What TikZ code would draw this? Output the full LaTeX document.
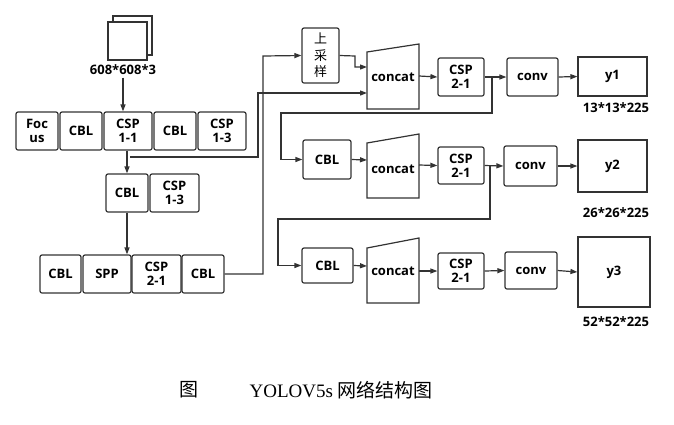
\documentclass[tikz,border=0pt]{standalone}
\usepackage{fontspec}
\setmainfont{Open Sans}
\newfontfamily\capfont{Liberation Serif}
\newfontfamily\cjk{Noto Sans CJK SC}
\usetikzlibrary{arrows.meta}
\begin{document}
\begin{tikzpicture}[x=1pt,y=-1pt,
  line width=1.2pt, draw=black!80,
  box/.style={draw=black!80,rounded corners=2pt,inner sep=0pt,align=center,font=\fontsize{13}{14}\selectfont\bfseries},
  lbl/.style={font=\fontsize{13}{14}\selectfont\bfseries,inner sep=0pt},
  arr/.style={-{Triangle[length=7pt,width=5pt]},draw=black!80},
  ln/.style={draw=black!80}]
\useasboundingbox (0,0) rectangle (674,424);
% input image icon
\draw[fill=white] (113,16) rectangle (152,55);
\draw[fill=white] (108,22) rectangle (147,60);
\node[lbl] (inp) at (123,70) {608*608*3};
% row 1
\node[box,minimum width=42,minimum height=38] (focus) at (37,131) {Foc\\us};
\node[box,minimum width=42,minimum height=38] (cbl1) at (81,131) {CBL};
\node[box,minimum width=48,minimum height=38] (csp11) at (128,131) {CSP\\1-1};
\node[box,minimum width=42,minimum height=38] (cbl2) at (175,131) {CBL};
\node[box,minimum width=48,minimum height=38] (csp13a) at (222,131) {CSP\\1-3};
% row 2
\node[box,minimum width=42,minimum height=38] (cbl3) at (127,193) {CBL};
\node[box,minimum width=49,minimum height=38] (csp13b) at (174.5,193) {CSP\\1-3};
% row 3
\node[box,minimum width=41,minimum height=38] (cbl4) at (60.5,274) {CBL};
\node[box,minimum width=48,minimum height=38] (spp) at (107,274) {SPP};
\node[box,minimum width=49,minimum height=38] (csp21a) at (156.5,274) {CSP\\2-1};
\node[box,minimum width=42,minimum height=38] (cbl5) at (203,274) {CBL};
% upsample
\node[box,minimum width=37,minimum height=55,font=\cjk\fontsize{13}{16.5}\selectfont] (up) at (320.5,55.5) {上\\采\\样};
% concats
\draw (367,52) -- (419,44) -- (419,109) -- (367,109) -- cycle;
\node[lbl] (c1) at (393,77) {concat};
\draw (367,143) -- (419,134) -- (419,198) -- (367,198) -- cycle;
\node[lbl] (c2) at (393,169) {concat};
\draw (367,248) -- (419,238) -- (419,303) -- (367,303) -- cycle;
\node[lbl] (c3) at (393,271) {concat};
\coordinate (c1in1) at (367,67);
\coordinate (c1in2) at (367,93);
\coordinate (c1out) at (419,76);
\coordinate (c2in) at (367,160);
\coordinate (c2out) at (419,165);
\coordinate (c3in) at (367,266);
\coordinate (c3out) at (419,271);
% heads
\node[box,minimum width=46,minimum height=38] (cspA) at (461,77) {CSP\\2-1};
\node[box,minimum width=51,minimum height=38] (convA) at (532.5,77) {conv};
\node[draw=black!80,minimum width=69,minimum height=39,inner sep=0pt,font=\fontsize{13}{14}\selectfont\bfseries] (y1) at (612.5,76.5) {y1};
\node[lbl] (l1) at (616,108) {13*13*225};
\node[box,minimum width=48,minimum height=39] (cblB) at (327,159.5) {CBL};
\node[box,minimum width=46,minimum height=37] (cspB) at (461,165.5) {CSP\\2-1};
\node[box,minimum width=53,minimum height=40] (convB) at (530.5,166) {conv};
\node[draw=black!80,minimum width=69,minimum height=52,inner sep=0pt,font=\fontsize{13}{14}\selectfont\bfseries] (y2) at (612.5,166) {y2};
\node[lbl] (l2) at (616,213) {26*26*225};
\node[box,minimum width=51,minimum height=35] (cblC) at (327.5,265.5) {CBL};
\node[box,minimum width=46,minimum height=36] (cspC) at (461,271) {CSP\\2-1};
\node[box,minimum width=52,minimum height=37] (convC) at (531,270.5) {conv};
\node[draw=black!80,minimum width=72,minimum height=70,inner sep=0pt,font=\fontsize{13}{14}\selectfont\bfseries] (y3) at (614,272) {y3};
\node[lbl] (l3) at (616,322) {52*52*225};
% connectors
\draw[arr] (inp.south) ++(0,2) -- (csp11.north -| inp.south);
\draw[arr] (csp11.south -| cbl3) -- (cbl3.north);
\draw[arr] (cbl3.south) -- (cbl3.south |- cbl4.north);
\draw[arr] (130,157) -- (258,157) -- (258,93) -- (c1in2);
\draw[arr] (cbl5.east) -- (263,274) -- (263,56) -- (up.west);
\draw[arr] (up.east) -- (355,56) -- (355,67) -- (c1in1);
\draw[arr] (c1out) -- (cspA.west);
\draw[arr] (cspA.east) -- (convA.west);
\draw[arr] (convA.east) -- (y1.west);
\draw[arr] (492,77) -- (492,113) -- (281,113) -- (281,159.5) -- (cblB.west);
\draw[arr] (cblB.east) -- (c2in);
\draw[arr] (c2out) -- (cspB.west);
\draw[arr] (cspB.east) -- (convB.west);
\draw[arr] (convB.east) -- (y2.west);
\draw[arr] (490,166) -- (490,219) -- (278,219) -- (278,265.5) -- (cblC.west);
\draw[arr] (cblC.east) -- (c3in);
\draw[arr] (c3out) -- (cspC.west);
\draw[arr] (cspC.east) -- (convC.west);
\draw[arr] (convC.east) -- (y3.west);
% caption
\node[font=\cjk\fontsize{19}{22}\selectfont,inner sep=0pt] (cap1) at (189,390) {图};
\node[anchor=west,inner sep=0pt,font=\fontsize{19}{22}\selectfont] (cap2) at (249,390) {{\capfont YOLOV5s} {\cjk 网络结构图}};
\end{tikzpicture}
\end{document}
